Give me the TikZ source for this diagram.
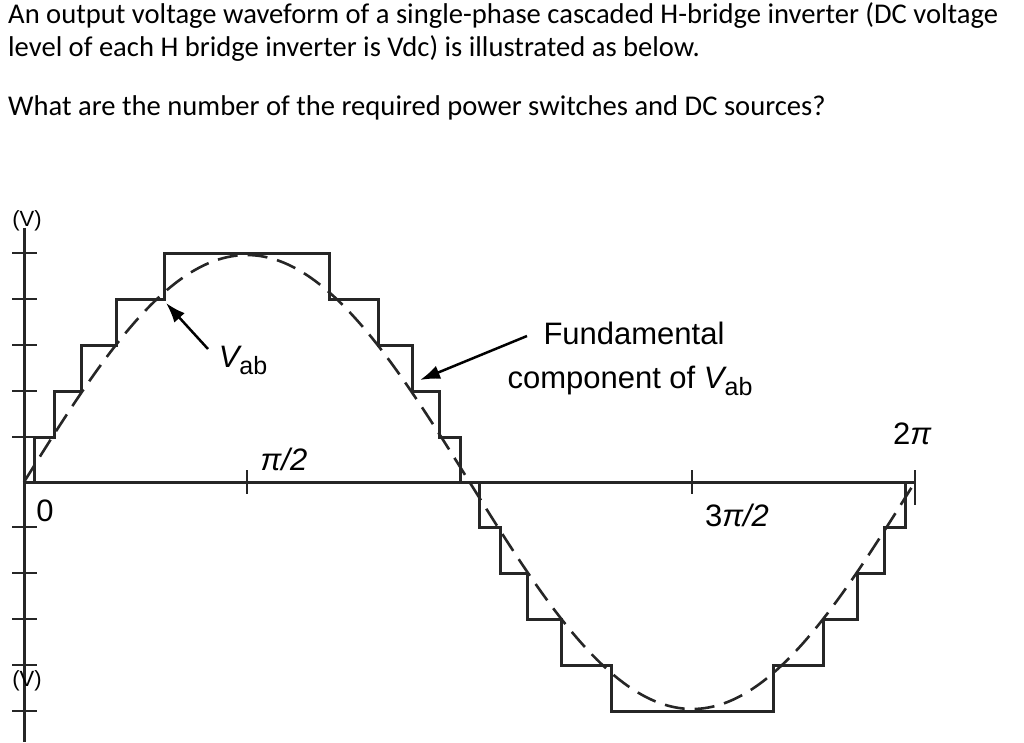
\documentclass[tikz,border=0pt]{standalone}
\usepackage{fontspec}
\usetikzlibrary{arrows.meta}
\setmainfont{Carlito}
\newfontfamily\lab{Liberation Sans}
\newcommand{\sbb}[1]{\raisebox{-7pt}{\fontsize{25}{28}\selectfont #1}}
\begin{document}
\begin{tikzpicture}[x=1pt,y=-1pt,
  ln/.style={line width=3pt,black!85},
  tk/.style={line width=2.5pt,black!85},
  txt/.style={anchor=west,inner sep=0pt,font=\fontsize{28.6}{32}\selectfont},
  lb/.style={inner sep=0pt,font=\lab\fontsize{31}{36}\selectfont},
  arr/.style={line width=2.5pt,-{Latex[length=20pt,width=14pt]}}]
\useasboundingbox (0,0) rectangle (1024,743);
\fill[white] (0,0) rectangle (1024,743);
\node[txt] (t1) at (8,16) {An output voltage waveform of a single-phase cascaded H-bridge inverter (DC voltage};
\node[txt] (t2) at (8,49) {level of each H bridge inverter is Vdc) is illustrated as below.};
\node[txt] (t3) at (8,108) {What are the number of the required power switches and DC sources?};
% axes
\draw[ln] (24,228) -- (24,742);
\draw[ln] (24,482) -- (915,482);
\foreach \y in {253,299,345,391,437,527,573,619,665,711} \draw[tk] (12,\y) -- (37,\y);
\draw[tk] (247,470) -- (247,494);
\draw[tk] (692,470) -- (692,494);
\draw[tk] (915,470) -- (915,505);
% staircase
\draw[ln,line join=miter] (24,482) -- (34,482) -- (34,437) -- (54,437) -- (54,391) -- (81,391) -- (81,345) -- (116,345) -- (116,299) -- (164,299) -- (164,253) -- (329,253) -- (329,299) -- (378,299) -- (378,345) -- (412,345) -- (412,391) -- (439,391) -- (439,437) -- (460,437) -- (460,482)
 -- (479,482) -- (479,527) -- (500,527) -- (500,573) -- (527,573) -- (527,619) -- (561,619) -- (561,665) -- (611,665) -- (611,711) -- (773,711) -- (773,665) -- (823,665) -- (823,619) -- (857,619) -- (857,573) -- (884,573) -- (884,527) -- (905,527) -- (905,482) -- (915,482);
% fundamental
\draw[line width=2.6pt,black!85,dash pattern=on 20pt off 10pt,domain=24:915,samples=200,smooth] plot (\x,{482-227*sin((\x-24)/891*360)});
% labels
\node[lb,font=\lab\fontsize{22}{26}\selectfont] (v1) at (27,221) {(V)};
\node[lb,font=\lab\fontsize{22}{26}\selectfont] (v2) at (27,681) {(V)};
\node[lb] (z) at (45,511) {0};
\node[lb] (p2) at (284,459) {\itshape π/2};
\node[lb] (p32) at (737,515) {3\itshape π/2};
\node[lb] (p2p) at (912,434) {2\itshape π};
\node[lb] (vab) at (243,360) {\itshape V\upshape\sbb{ab}};
\node[lb] (f1) at (634,333) {Fundamental};
\node[lb] (f2) at (630,381) {component of \itshape V\upshape\sbb{ab}};
\coordinate (a1) at (166,303);
\coordinate (a2) at (420,380);
\draw[arr] (208,349) -- (a1);
\draw[arr] (527,336) -- (a2);
\end{tikzpicture}
\end{document}
